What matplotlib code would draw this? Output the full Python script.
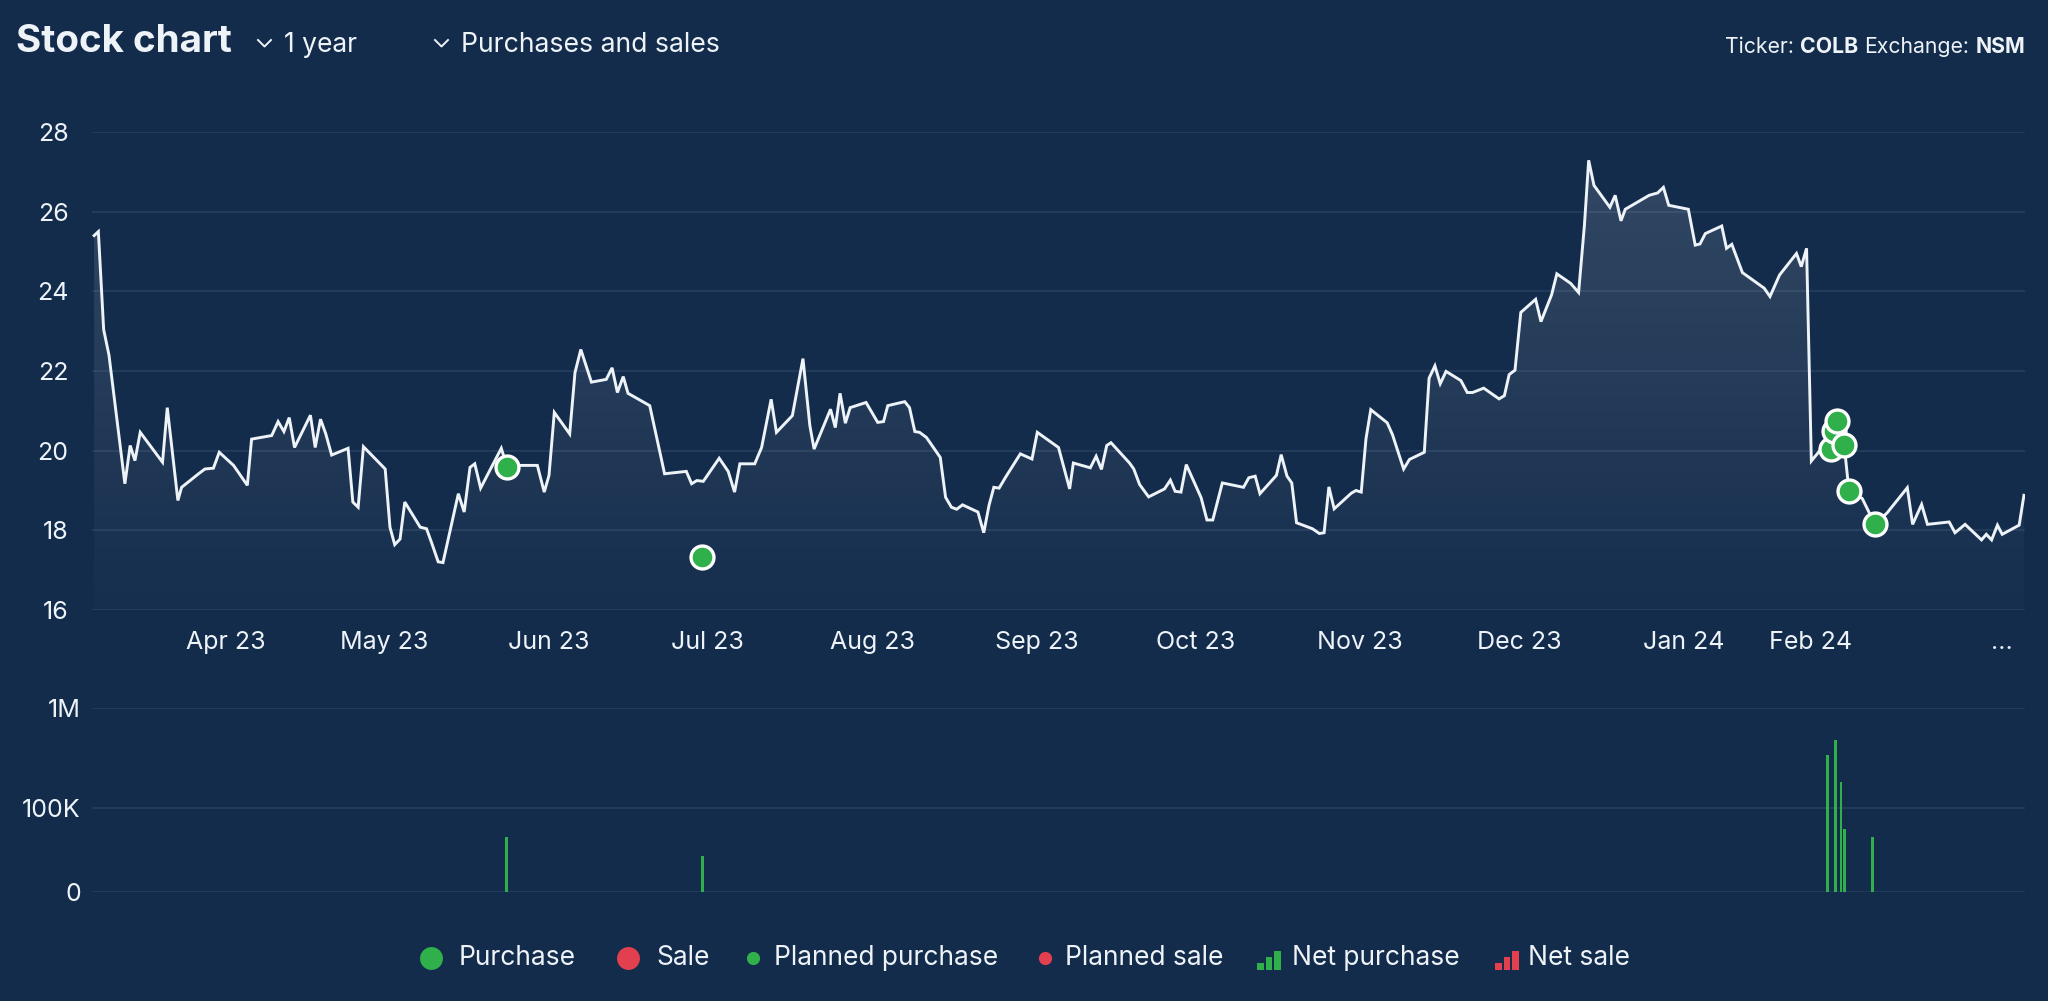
import numpy as np
import pandas as pd
import matplotlib
matplotlib.use("Agg")
import matplotlib.pyplot as plt
from matplotlib.scale import FuncScale
from matplotlib.transforms import ScaledTranslation

plt.rcParams['font.family'] = ['Inter', 'DejaVu Sans']

BG = '#132c4c'
GRID = '#263f5e'
TXT = '#eef3f8'
GREEN = '#2fb04a'
RED = '#e2404e'

# closing price (day = days after start)
start = pd.Timestamp('2023-03-08')
day = [0.0, 0.8, 1.8, 2.8, 5.8, 6.8, 7.7, 8.7, 12.9, 13.8, 15.8, 16.5, 19.7, 20.9, 22.5, 23.6,
       26.3, 28.9, 29.7, 33.5, 34.7, 35.8, 36.8, 37.8, 40.8, 41.7, 42.7, 43.7, 44.8, 47.9, 48.8,
       49.8, 50.8, 54.9, 55.8, 56.7, 57.7, 58.6, 61.5, 62.7, 63.6, 64.9, 65.8, 68.7, 69.8, 70.9,
       71.8, 72.9, 76.8, 77.8, 83.6, 84.9, 85.8, 86.8, 89.7, 90.7, 91.8, 93.8, 96.6, 97.7, 98.7,
       99.8, 100.7, 104.8, 107.6, 111.7, 112.7, 113.7, 114.9, 117.9, 119.6, 120.8, 121.8, 124.6,
       125.9, 127.7, 128.7, 131.7, 133.7, 135.0, 135.8, 138.9, 139.8, 140.7, 141.7, 142.6, 145.6,
       147.8, 148.9, 149.7, 152.9, 153.8, 154.8, 155.7, 157.0, 159.6, 160.6, 161.7, 162.7, 163.8,
       166.7, 167.8, 168.8, 169.7, 170.7, 171.9, 174.7, 176.9, 177.9, 181.9, 184.0, 184.7, 187.9,
       189.0, 190.0, 191.0, 191.8, 195.3, 196.1, 197.2, 198.9, 201.9, 203.0, 203.9, 205.0, 206.0,
       208.8, 209.9, 211.0, 212.8, 216.8, 217.8, 219.0, 219.9, 223.0, 223.9, 225.0, 225.9, 226.8,
       229.8, 231.1, 232.0, 232.9, 233.9, 237.1, 238.0, 239.0, 239.9, 240.8, 243.9, 244.9, 247.0,
       248.1, 250.9, 251.8, 252.9, 253.9, 255.0, 257.8, 259.0, 260.0, 262.1, 265.0, 266.0, 266.9,
       268.0, 269.1, 271.9, 272.9, 274.9, 275.9, 278.5, 280.0, 281.1, 281.9, 282.9, 285.9, 286.9,
       288.0, 288.8, 293.3, 294.9, 296.0, 297.0, 300.7, 302.0, 302.9, 303.9, 307.0, 307.9, 308.9,
       310.9, 315.0, 316.1, 317.9, 321.1, 322.0, 323.0, 323.9, 325.8, 327.6, 328.2, 328.7, 330.1,
       331.0, 333.5, 335.9, 338.2, 342.0, 343.0, 344.7, 345.8, 349.9, 351.0, 352.9, 356.0, 356.9,
       357.9, 359.0, 359.9, 363.1, 364.0]
close = [25.40, 25.50, 23.04, 22.40, 19.17, 20.13, 19.75, 20.46, 19.71, 21.08, 18.75, 19.08,
         19.42, 19.54, 19.56, 19.96, 19.63, 19.13, 20.29, 20.38, 20.73, 20.48, 20.83, 20.08,
         20.89, 20.08, 20.79, 20.42, 19.89, 20.06, 18.71, 18.58, 20.10, 19.54, 18.08, 17.64,
         17.78, 18.71, 18.08, 18.04, 17.71, 17.21, 17.19, 18.92, 18.46, 19.58, 19.67, 19.06,
         20.06, 19.63, 19.63, 18.96, 19.38, 20.96, 20.42, 21.96, 22.54, 21.72, 21.79, 22.08,
         21.46, 21.86, 21.44, 21.13, 19.42, 19.48, 19.17, 19.25, 19.23, 19.81, 19.48, 18.96,
         19.67, 19.67, 20.08, 21.29, 20.46, 20.88, 22.31, 20.63, 20.04, 21.04, 20.58, 21.44,
         20.69, 21.08, 21.21, 20.71, 20.73, 21.13, 21.23, 21.08, 20.48, 20.46, 20.33, 19.83,
         18.83, 18.58, 18.53, 18.64, 18.46, 17.94, 18.63, 19.08, 19.06, 19.33, 19.92, 19.79,
         20.46, 20.08, 19.04, 19.69, 19.57, 19.86, 19.53, 20.13, 20.20, 19.69, 19.54, 19.15,
         18.84, 19.04, 19.26, 18.98, 18.96, 19.65, 18.82, 18.26, 18.26, 19.19, 19.08, 19.32,
         19.36, 18.92, 19.38, 19.90, 19.36, 19.19, 18.19, 18.04, 17.92, 17.94, 19.09, 18.54,
         18.93, 19.00, 18.96, 20.30, 21.03, 20.70, 20.40, 19.54, 19.78, 19.96, 21.82, 22.13,
         21.68, 21.99, 21.76, 21.46, 21.46, 21.57, 21.30, 21.38, 21.91, 22.02, 23.47, 23.80,
         23.24, 23.91, 24.44, 24.20, 23.97, 25.66, 27.29, 26.66, 26.11, 26.41, 25.77, 26.06,
         26.41, 26.47, 26.61, 26.16, 26.06, 25.16, 25.19, 25.45, 25.64, 25.08, 25.18, 24.47,
         24.08, 23.87, 24.41, 24.95, 24.62, 25.08, 19.74, 20.05, 20.03, 20.45, 20.70, 20.14,
         18.98, 18.80, 18.15, 18.44, 19.07, 18.15, 18.65, 18.15, 18.21, 17.94, 18.15, 17.76,
         17.90, 17.76, 18.13, 17.90, 18.13, 18.88]

# insider purchases (price markers)
buy_day = [77.8, 114.7, 327.6, 328.2, 330.1, 328.8, 331.0, 335.9]
buy_price = [19.58, 17.33, 20.03, 20.50, 20.14, 20.75, 18.98, 18.15]

# net purchase volume
net_day = [77.8, 114.7, 327.0, 328.5, 329.5, 330.2, 335.4]
net_vol = [45e3, 23e3, 350e3, 500e3, 188e3, 57e3, 45e3]

tick_dates = ['2023-04-01', '2023-05-01', '2023-06-01', '2023-07-01', '2023-08-01',
              '2023-09-01', '2023-10-01', '2023-11-01', '2023-12-01', '2024-01-01',
              '2024-01-25', '2024-03-01']
tick_labels = ['Apr 23', 'May 23', 'Jun 23', 'Jul 23', 'Aug 23', 'Sep 23', 'Oct 23',
               'Nov 23', 'Dec 23', 'Jan 24', 'Feb 24', '…']
tick_pos = [(pd.Timestamp(t) - start).days for t in tick_dates]

W, H = 2048, 1001
fig = plt.figure(figsize=(W / 100, H / 100), dpi=100, facecolor=BG)

def px_axes(x0, y0, x1, y1):
    return fig.add_axes([x0 / W, 1 - y1 / H, (x1 - x0) / W, (y1 - y0) / H])

xlim = (-0.4, 364.2)

# ---- price panel
ax = px_axes(92, 132, 2025, 610)
ax.set_facecolor(BG)
ax.set_xlim(*xlim)
ax.set_ylim(16, 28)
ax.set_yticks(range(16, 29, 2))
ax.set_xticks(tick_pos, tick_labels)
ax.grid(axis='y', color=GRID, lw=1.2)
ax.set_axisbelow(True)
for s in ax.spines.values():
    s.set_visible(False)
ax.tick_params(length=0, colors=TXT, labelsize=18)
ax.tick_params(axis='y', pad=17)
ax.tick_params(axis='x', pad=15)
shift = ScaledTranslation(4 / 100, 0, fig.dpi_scale_trans)
for lab in ax.get_xticklabels():
    lab.set_transform(lab.get_transform() + shift)

poly = ax.fill_between(day, close, 16, color='none', lw=0)
grad = np.zeros((256, 1, 4))
grad[..., :3] = 1.0
grad[:, 0, 3] = np.linspace(0.015, 0.14, 256)
img = ax.imshow(grad, extent=[xlim[0], xlim[1], 16, 28], origin='lower', aspect='auto', zorder=1)
img.set_clip_path(poly.get_paths()[0], transform=ax.transData)
ax.plot(day, close, color=TXT, lw=2.1, zorder=3, solid_joinstyle='miter')
ax.plot(buy_day, buy_price, 'o', ms=16.5, mfc=GREEN, mec='white', mew=2.4, ls='none', zorder=4)

# ---- net purchase panel
fwd = lambda y: np.log10(1 + np.maximum(y, 0) / 2e4)
inv = lambda f: 2e4 * (10 ** f - 1)
bx = px_axes(92, 708, 2025, 892)
bx.set_facecolor(BG)
bx.set_xlim(*xlim)
bx.set_yscale(FuncScale(bx.yaxis, (fwd, inv)))
bx.set_ylim(0, 1e6)
bx.set_yticks([0, 1e5, 1e6], ['0', '100K', '1M'])
bx.set_xticks([])
bx.grid(axis='y', color=GRID, lw=1.2)
bx.set_axisbelow(True)
for s in bx.spines.values():
    s.set_visible(False)
bx.tick_params(length=0, colors=TXT, labelsize=18, pad=8)
bx.bar(net_day, net_vol, width=0.55, color=GREEN, zorder=3)

# ---- header and legend (pixel overlay)
ov = fig.add_axes([0, 0, 1, 1])
ov.set_xlim(0, W)
ov.set_ylim(H, 0)
ov.axis('off')
ov.patch.set_alpha(0)

ov.text(16, 52, 'Stock chart', fontsize=27.8, fontweight='bold', color=TXT, va='baseline')
ov.plot([258, 264.5, 271], [40, 46.5, 40], color=TXT, lw=1.4)
ov.text(284, 52, '1 year', fontsize=19, color=TXT, va='baseline')
ov.plot([435, 441.5, 448], [40, 46.5, 40], color=TXT, lw=1.4)
ov.text(461, 52, 'Purchases and sales', fontsize=19.2, color=TXT, va='baseline')

renderer = fig.canvas.get_renderer()
pieces = [('NSM', 'bold'), ('Exchange:', 'normal'), ('COLB', 'bold'), ('Ticker:', 'normal')]
xr = 2025
for s, wgt in pieces:
    t = ov.text(xr, 53, s, fontsize=15.3, fontweight=wgt, color=TXT, ha='right', va='baseline')
    w = t.get_window_extent(renderer).width
    xr -= w + 6

ly = 958
ov.plot(431, ly, 'o', ms=16.5, color=GREEN, mew=0)
ov.text(459, ly, 'Purchase', fontsize=19, color=TXT, va='center')
ov.plot(628, ly, 'o', ms=16.5, color=RED, mew=0)
ov.text(656, ly, 'Sale', fontsize=19, color=TXT, va='center')
ov.plot(753, ly, 'o', ms=9.5, color=GREEN, mew=0)
ov.text(774, ly, 'Planned purchase', fontsize=19, color=TXT, va='center')
ov.plot(1045, ly, 'o', ms=9.5, color=RED, mew=0)
ov.text(1065, ly, 'Planned sale', fontsize=19, color=TXT, va='center')
for x0, c in [(1257, GREEN), (1495, RED)]:
    for k, hgt in enumerate([7, 13, 19]):
        ov.add_patch(plt.Rectangle((x0 + k * 8.5, 970 - hgt), 6.5, hgt, color=c, lw=0))
ov.text(1292, ly, 'Net purchase', fontsize=19, color=TXT, va='center')
ov.text(1528, ly, 'Net sale', fontsize=19, color=TXT, va='center')

fig.savefig('out.png', dpi=100, facecolor=BG)
